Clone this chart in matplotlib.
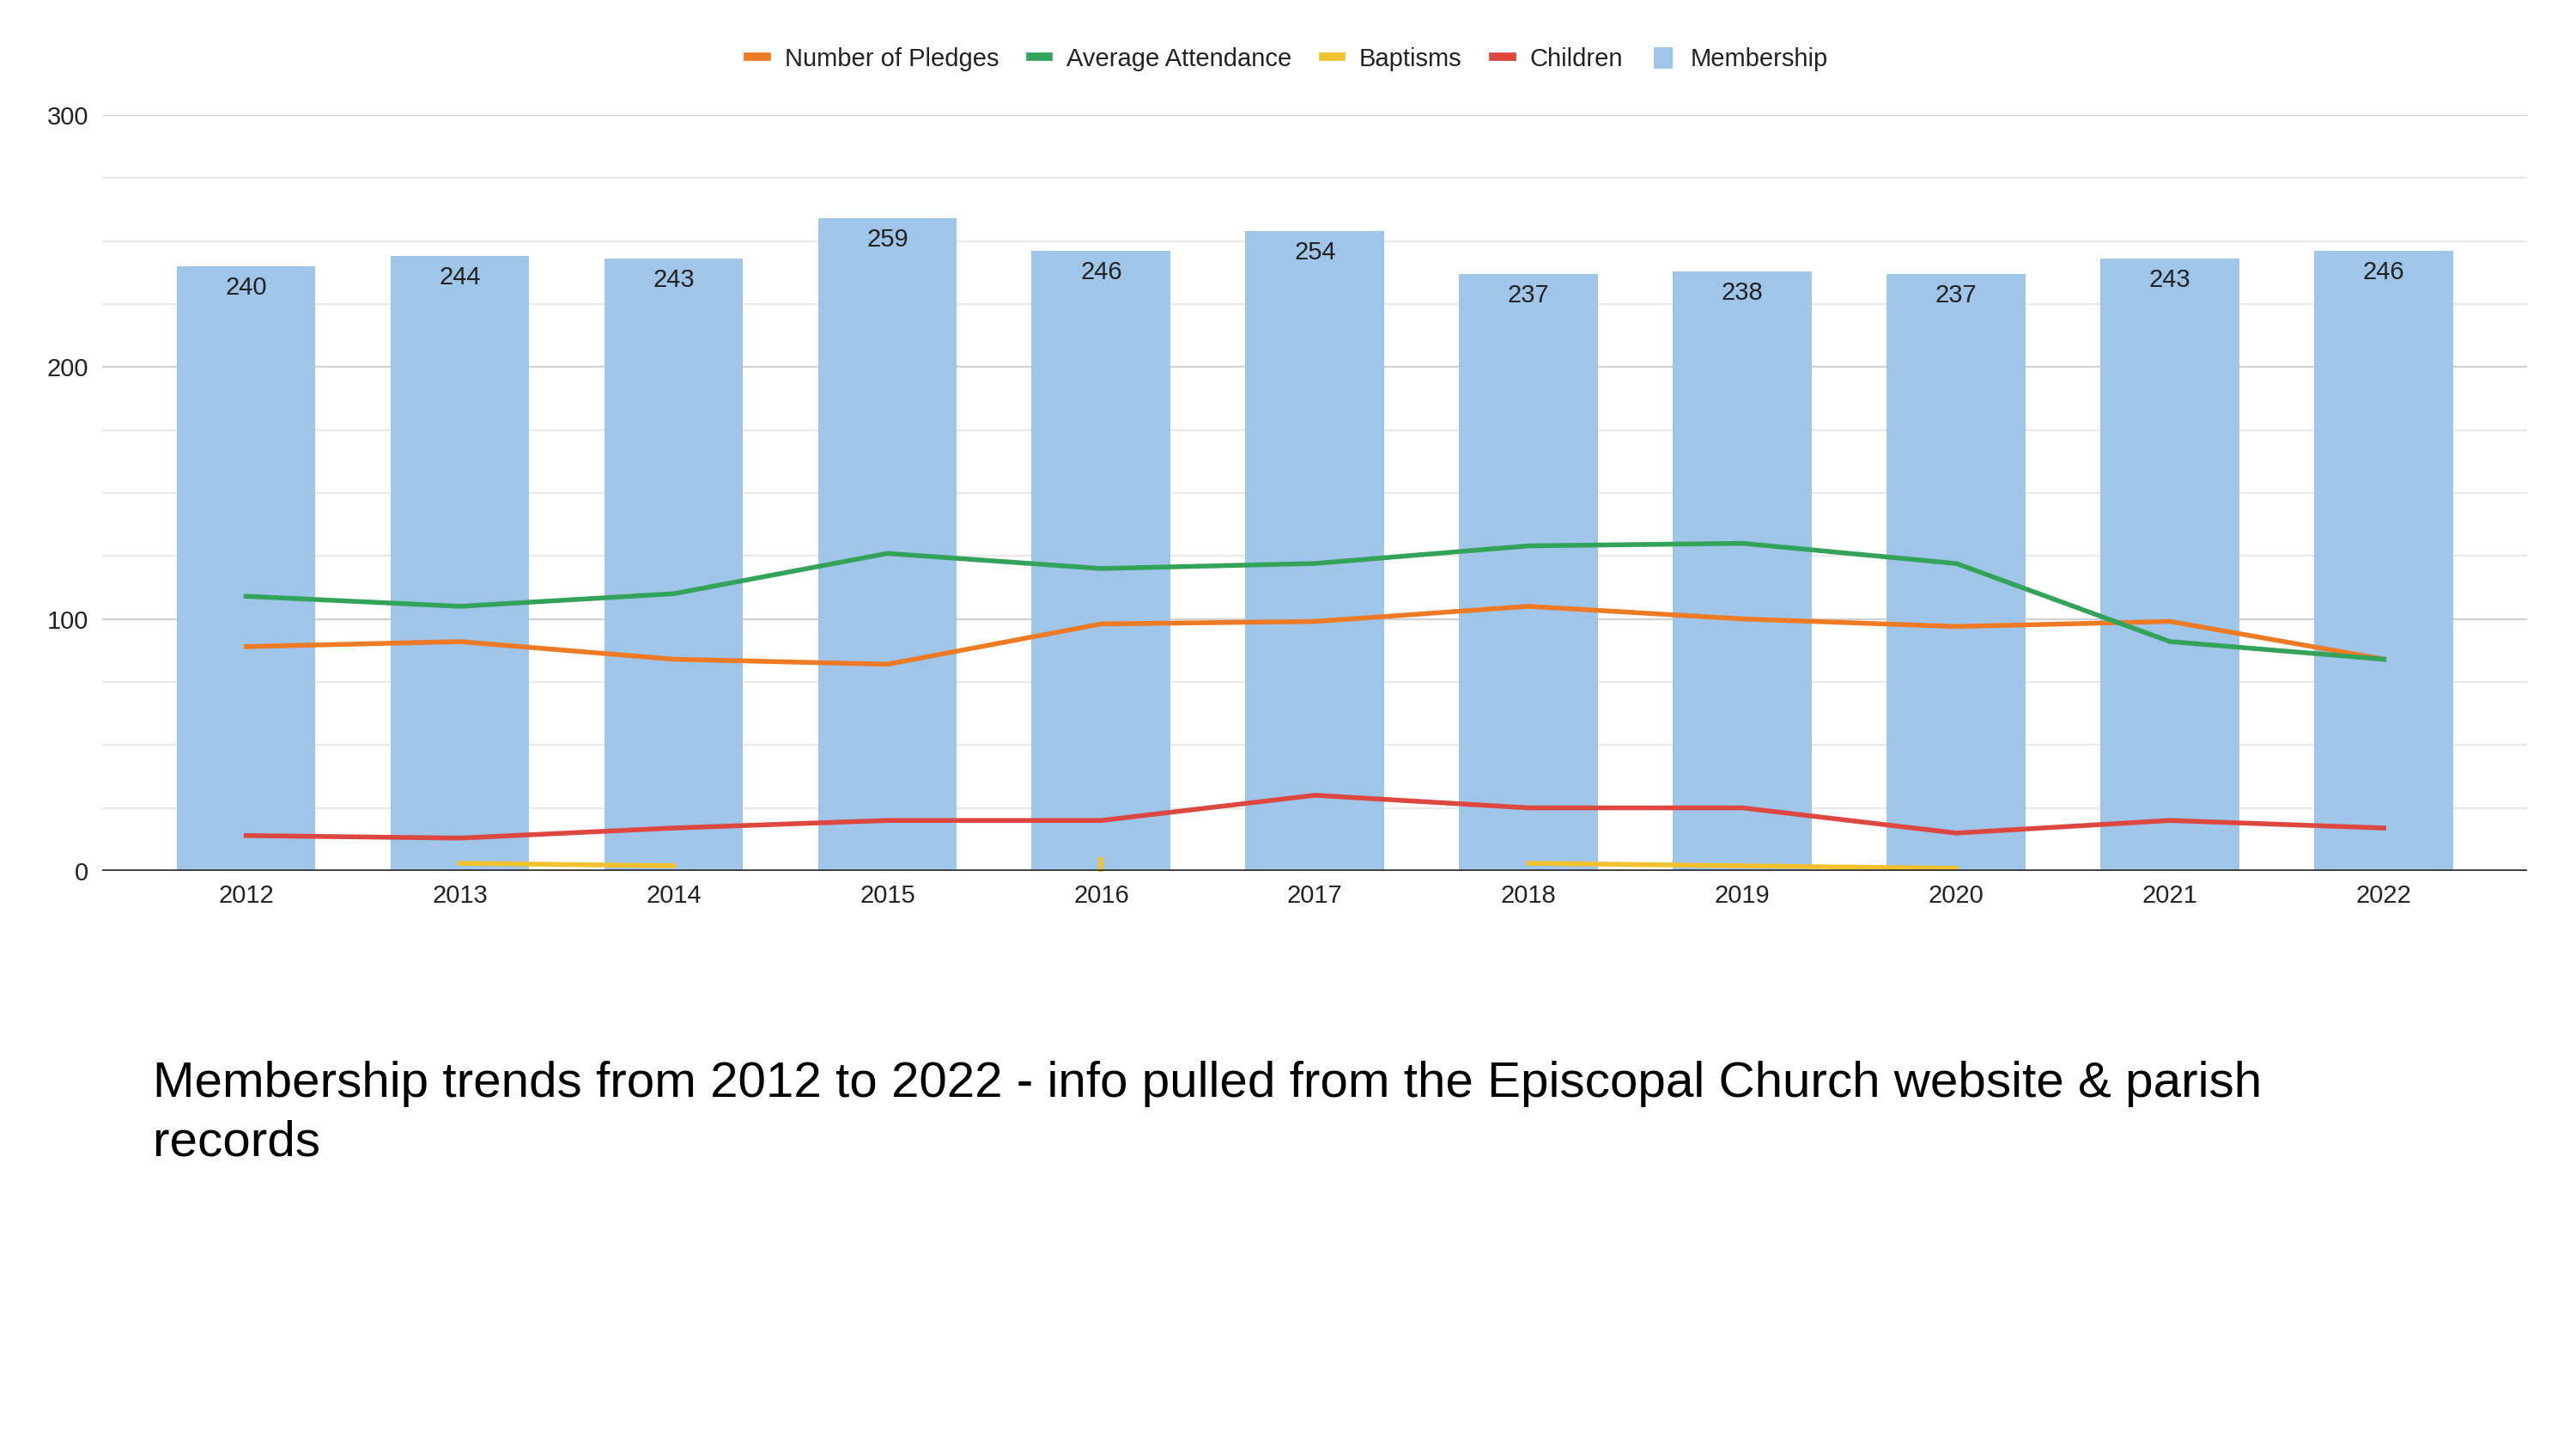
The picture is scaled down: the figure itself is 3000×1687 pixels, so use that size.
import matplotlib
matplotlib.use('Agg')
import matplotlib.pyplot as plt
import numpy as np
from matplotlib.lines import Line2D
from matplotlib.patches import Patch

years = ['2012', '2013', '2014', '2015', '2016', '2017',
         '2018', '2019', '2020', '2021', '2022']
membership = [240, 244, 243, 259, 246, 254, 237, 238, 237, 243, 246]
pledges = [89, 91, 84, 82, 98, 99, 105, 100, 97, 99, 84]
attendance = [109, 105, 110, 126, 120, 122, 129, 130, 122, 91, 84]
baptisms = [np.nan, 3, 2, np.nan, 2, np.nan, 3, 2, 1, np.nan, np.nan]
children = [14, 13, 17, 20, 20, 30, 25, 25, 15, 20, 17]

caption = ('Membership trends from 2012 to 2022 - info pulled from the '
           'Episcopal Church website & parish\nrecords')

BLUE = '#9fc5e8'
ORANGE = '#ef7a24'
GREEN = '#34a35a'
YELLOW = '#f2c12e'
RED = '#dc4740'

plt.rcParams['font.family'] = ['Liberation Sans', 'DejaVu Sans']
FS = 21

fig = plt.figure(figsize=(30, 16.87), dpi=100)
ax = fig.add_axes([0.0395, 0.399, 0.9415, 0.5216])

x = np.arange(len(years))

# grid first so it sits behind the bars
for v in range(25, 300, 25):
    col = '#d0d0d0' if v % 100 == 0 else '#e8e8e8'
    ax.axhline(v, color=col, lw=1.6, zorder=0)
ax.axhline(300, color='#d0d0d0', lw=1.6, zorder=0)

bars = ax.bar(x, membership, width=0.65, color=BLUE, zorder=1)
for xi, v in zip(x, membership):
    ax.annotate(str(v), (xi, v), xytext=(0, -8), textcoords='offset points',
                ha='center', va='top', fontsize=FS, color='#222222', zorder=5)

lw = 4
ax.plot(x, pledges, color=ORANGE, lw=lw, zorder=3, solid_joinstyle='round')
ax.plot(x, attendance, color=GREEN, lw=lw, zorder=3, solid_joinstyle='round')
ax.plot(x, baptisms, color=YELLOW, lw=lw, zorder=3, solid_joinstyle='round')
# isolated baptism value shows up as a small dash
b = np.array(baptisms)
iso = [i for i in range(len(b)) if not np.isnan(b[i])
       and (i == 0 or np.isnan(b[i - 1])) and (i == len(b) - 1 or np.isnan(b[i + 1]))]
ax.plot(x[iso], b[iso], ls='none', marker='|', ms=14, mew=4, color=YELLOW, zorder=3)
ax.plot(x, children, color=RED, lw=lw, zorder=3, solid_joinstyle='round')

ax.axhline(0, color='#333333', lw=2.6, zorder=4)

ax.set_xlim(-0.675, 10.67)
ax.set_ylim(0, 300)
ax.set_xticks(x)
ax.set_xticklabels(years, fontsize=FS, color='#222222')
ax.set_yticks([0, 100, 200, 300])
ax.set_yticklabels(['0', '100', '200', '300'], fontsize=FS, color='#222222')
ax.tick_params(axis='both', length=0)
ax.tick_params(axis='x', pad=11)
ax.tick_params(axis='y', pad=11)
for s in ax.spines.values():
    s.set_visible(False)

handles = [
    Line2D([], [], color=ORANGE, lw=7),
    Line2D([], [], color=GREEN, lw=7),
    Line2D([], [], color=YELLOW, lw=7),
    Line2D([], [], color=RED, lw=7),
    Patch(facecolor=BLUE, edgecolor='none'),
]
labels = ['Number of Pledges', 'Average Attendance', 'Baptisms', 'Children', 'Membership']
fig.legend(handles, labels, loc='center', bbox_to_anchor=(0.5, 0.959), ncol=5,
           frameon=False, fontsize=FS, handlelength=0.75, handleheight=0.95,
           handletextpad=0.7, columnspacing=1.25, labelcolor='#222222')

fig.text(0.0593, 0.268, caption, fontsize=42, color='black',
         ha='left', va='top', linespacing=1.34)

fig.savefig('out.png', dpi=100)
